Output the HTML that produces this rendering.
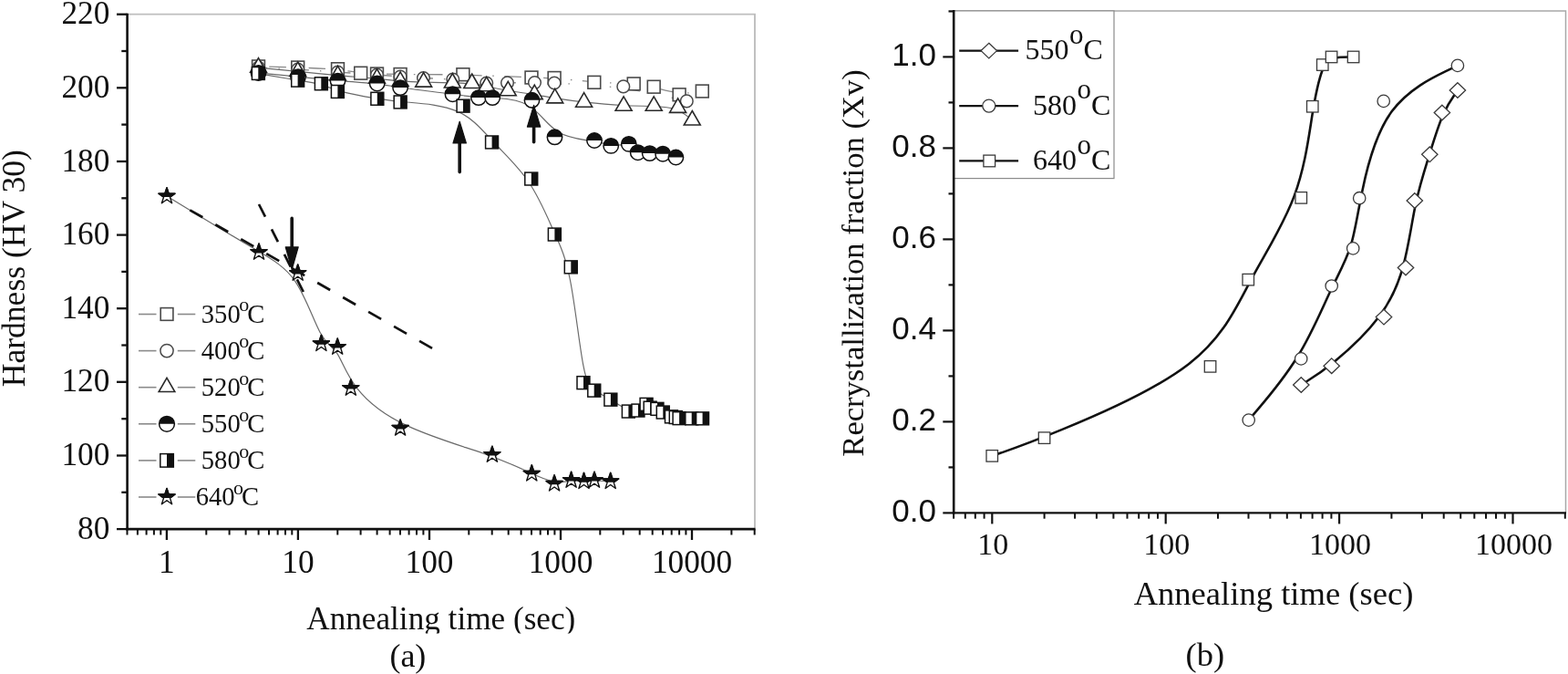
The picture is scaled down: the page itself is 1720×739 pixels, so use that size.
<!DOCTYPE html>
<html><head><meta charset="utf-8"><style>
html,body{margin:0;padding:0;background:#fff;}
svg{display:block;}
</style></head><body>
<svg width="1720" height="739" viewBox="0 0 1720 739">
<rect width="1720" height="739" fill="#fff"/>
<g fill="#111">
<path d="M139.6,15.6 H828.0 V580.1" fill="none" stroke="#bebebe" stroke-width="1.9"/>
<line x1="128.0" y1="580.1" x2="139.6" y2="580.1" stroke="#111" stroke-width="2.3"/>
<text x="120.4" y="590.6" font-size="35.3" text-anchor="end" font-family="'Liberation Serif','Times New Roman',serif" >80</text>
<line x1="133.3" y1="539.8" x2="139.6" y2="539.8" stroke="#111" stroke-width="2.3"/>
<line x1="128.0" y1="499.5" x2="139.6" y2="499.5" stroke="#111" stroke-width="2.3"/>
<text x="120.4" y="510.0" font-size="35.3" text-anchor="end" font-family="'Liberation Serif','Times New Roman',serif" >100</text>
<line x1="133.3" y1="459.2" x2="139.6" y2="459.2" stroke="#111" stroke-width="2.3"/>
<line x1="128.0" y1="418.8" x2="139.6" y2="418.8" stroke="#111" stroke-width="2.3"/>
<text x="120.4" y="429.3" font-size="35.3" text-anchor="end" font-family="'Liberation Serif','Times New Roman',serif" >120</text>
<line x1="133.3" y1="378.5" x2="139.6" y2="378.5" stroke="#111" stroke-width="2.3"/>
<line x1="128.0" y1="338.2" x2="139.6" y2="338.2" stroke="#111" stroke-width="2.3"/>
<text x="120.4" y="348.7" font-size="35.3" text-anchor="end" font-family="'Liberation Serif','Times New Roman',serif" >140</text>
<line x1="133.3" y1="297.9" x2="139.6" y2="297.9" stroke="#111" stroke-width="2.3"/>
<line x1="128.0" y1="257.6" x2="139.6" y2="257.6" stroke="#111" stroke-width="2.3"/>
<text x="120.4" y="268.1" font-size="35.3" text-anchor="end" font-family="'Liberation Serif','Times New Roman',serif" >160</text>
<line x1="133.3" y1="217.3" x2="139.6" y2="217.3" stroke="#111" stroke-width="2.3"/>
<line x1="128.0" y1="177.0" x2="139.6" y2="177.0" stroke="#111" stroke-width="2.3"/>
<text x="120.4" y="187.5" font-size="35.3" text-anchor="end" font-family="'Liberation Serif','Times New Roman',serif" >180</text>
<line x1="133.3" y1="136.6" x2="139.6" y2="136.6" stroke="#111" stroke-width="2.3"/>
<line x1="128.0" y1="96.3" x2="139.6" y2="96.3" stroke="#111" stroke-width="2.3"/>
<text x="120.4" y="106.8" font-size="35.3" text-anchor="end" font-family="'Liberation Serif','Times New Roman',serif" >200</text>
<line x1="133.3" y1="56.0" x2="139.6" y2="56.0" stroke="#111" stroke-width="2.3"/>
<line x1="128.0" y1="15.7" x2="139.6" y2="15.7" stroke="#111" stroke-width="2.3"/>
<text x="120.4" y="26.2" font-size="35.3" text-anchor="end" font-family="'Liberation Serif','Times New Roman',serif" >220</text>
<line x1="139.5" y1="580.1" x2="139.5" y2="586.5" stroke="#111" stroke-width="2.0"/>
<line x1="150.9" y1="580.1" x2="150.9" y2="586.5" stroke="#111" stroke-width="2.0"/>
<line x1="160.6" y1="580.1" x2="160.6" y2="586.5" stroke="#111" stroke-width="2.0"/>
<line x1="168.9" y1="580.1" x2="168.9" y2="586.5" stroke="#111" stroke-width="2.0"/>
<line x1="176.3" y1="580.1" x2="176.3" y2="586.5" stroke="#111" stroke-width="2.0"/>
<line x1="182.9" y1="580.1" x2="182.9" y2="592" stroke="#111" stroke-width="2.3"/>
<text x="182.9" y="628.0" font-size="35.3" text-anchor="middle" font-family="'Liberation Serif','Times New Roman',serif" >1</text>
<line x1="226.3" y1="580.1" x2="226.3" y2="586.5" stroke="#111" stroke-width="2.0"/>
<line x1="251.6" y1="580.1" x2="251.6" y2="586.5" stroke="#111" stroke-width="2.0"/>
<line x1="269.6" y1="580.1" x2="269.6" y2="586.5" stroke="#111" stroke-width="2.0"/>
<line x1="283.6" y1="580.1" x2="283.6" y2="586.5" stroke="#111" stroke-width="2.0"/>
<line x1="295.0" y1="580.1" x2="295.0" y2="586.5" stroke="#111" stroke-width="2.0"/>
<line x1="304.6" y1="580.1" x2="304.6" y2="586.5" stroke="#111" stroke-width="2.0"/>
<line x1="313.0" y1="580.1" x2="313.0" y2="586.5" stroke="#111" stroke-width="2.0"/>
<line x1="320.3" y1="580.1" x2="320.3" y2="586.5" stroke="#111" stroke-width="2.0"/>
<line x1="326.9" y1="580.1" x2="326.9" y2="592" stroke="#111" stroke-width="2.3"/>
<text x="326.9" y="628.0" font-size="35.3" text-anchor="middle" font-family="'Liberation Serif','Times New Roman',serif" >10</text>
<line x1="370.3" y1="580.1" x2="370.3" y2="586.5" stroke="#111" stroke-width="2.0"/>
<line x1="395.6" y1="580.1" x2="395.6" y2="586.5" stroke="#111" stroke-width="2.0"/>
<line x1="413.6" y1="580.1" x2="413.6" y2="586.5" stroke="#111" stroke-width="2.0"/>
<line x1="427.6" y1="580.1" x2="427.6" y2="586.5" stroke="#111" stroke-width="2.0"/>
<line x1="439.0" y1="580.1" x2="439.0" y2="586.5" stroke="#111" stroke-width="2.0"/>
<line x1="448.6" y1="580.1" x2="448.6" y2="586.5" stroke="#111" stroke-width="2.0"/>
<line x1="457.0" y1="580.1" x2="457.0" y2="586.5" stroke="#111" stroke-width="2.0"/>
<line x1="464.4" y1="580.1" x2="464.4" y2="586.5" stroke="#111" stroke-width="2.0"/>
<line x1="471.0" y1="580.1" x2="471.0" y2="592" stroke="#111" stroke-width="2.3"/>
<text x="471.0" y="628.0" font-size="35.3" text-anchor="middle" font-family="'Liberation Serif','Times New Roman',serif" >100</text>
<line x1="514.3" y1="580.1" x2="514.3" y2="586.5" stroke="#111" stroke-width="2.0"/>
<line x1="539.7" y1="580.1" x2="539.7" y2="586.5" stroke="#111" stroke-width="2.0"/>
<line x1="557.7" y1="580.1" x2="557.7" y2="586.5" stroke="#111" stroke-width="2.0"/>
<line x1="571.6" y1="580.1" x2="571.6" y2="586.5" stroke="#111" stroke-width="2.0"/>
<line x1="583.0" y1="580.1" x2="583.0" y2="586.5" stroke="#111" stroke-width="2.0"/>
<line x1="592.7" y1="580.1" x2="592.7" y2="586.5" stroke="#111" stroke-width="2.0"/>
<line x1="601.0" y1="580.1" x2="601.0" y2="586.5" stroke="#111" stroke-width="2.0"/>
<line x1="608.4" y1="580.1" x2="608.4" y2="586.5" stroke="#111" stroke-width="2.0"/>
<line x1="615.0" y1="580.1" x2="615.0" y2="592" stroke="#111" stroke-width="2.3"/>
<text x="615.0" y="628.0" font-size="35.3" text-anchor="middle" font-family="'Liberation Serif','Times New Roman',serif" >1000</text>
<line x1="658.3" y1="580.1" x2="658.3" y2="586.5" stroke="#111" stroke-width="2.0"/>
<line x1="683.7" y1="580.1" x2="683.7" y2="586.5" stroke="#111" stroke-width="2.0"/>
<line x1="701.7" y1="580.1" x2="701.7" y2="586.5" stroke="#111" stroke-width="2.0"/>
<line x1="715.7" y1="580.1" x2="715.7" y2="586.5" stroke="#111" stroke-width="2.0"/>
<line x1="727.1" y1="580.1" x2="727.1" y2="586.5" stroke="#111" stroke-width="2.0"/>
<line x1="736.7" y1="580.1" x2="736.7" y2="586.5" stroke="#111" stroke-width="2.0"/>
<line x1="745.1" y1="580.1" x2="745.1" y2="586.5" stroke="#111" stroke-width="2.0"/>
<line x1="752.4" y1="580.1" x2="752.4" y2="586.5" stroke="#111" stroke-width="2.0"/>
<line x1="759.0" y1="580.1" x2="759.0" y2="592" stroke="#111" stroke-width="2.3"/>
<text x="759.0" y="628.0" font-size="35.3" text-anchor="middle" font-family="'Liberation Serif','Times New Roman',serif" >10000</text>
<line x1="802.4" y1="580.1" x2="802.4" y2="586.5" stroke="#111" stroke-width="2.0"/>
<line x1="827.7" y1="580.1" x2="827.7" y2="586.5" stroke="#111" stroke-width="2.0"/>
<line x1="139.6" y1="14.799999999999999" x2="139.6" y2="581.3000000000001" stroke="#111" stroke-width="2.6"/>
<line x1="138.4" y1="580.1" x2="828.5" y2="580.1" stroke="#111" stroke-width="2.6"/>
<clipPath id="ctl"><rect x="300" y="640" width="400" height="54.6"/></clipPath>
<text x="483.8" y="689.9" font-size="35.2" text-anchor="middle" font-family="'Liberation Serif','Times New Roman',serif" clip-path="url(#ctl)">Annealing time (sec)</text>
<text x="447.4" y="730.5" font-size="36" text-anchor="middle" font-family="'Liberation Serif','Times New Roman',serif" >(a)</text>
<text x="0" y="0" font-size="35.6" text-anchor="middle" font-family="'Liberation Serif','Times New Roman',serif" transform="translate(26.8,294.2) rotate(-90)">Hardness (HV 30)</text>
<path d="M283.5,72.9 C283.5,72.9 283.5,72.9 290.7,73.1 C297.9,73.3 312.3,73.6 326.8,74.1 C341.3,74.6 355.9,75.1 367.4,76.2 C378.9,77.2 387.3,78.7 394.5,79.6 C401.6,80.5 407.6,80.7 414.8,81.0 C422.0,81.2 430.6,81.3 446.3,81.5 C462.0,81.6 485.0,81.6 508.9,82.2 C532.9,82.8 558.0,83.9 574.7,84.5 C591.4,85.2 599.7,85.3 611.2,86.2 C622.7,87.1 637.2,88.7 651.8,89.8 C666.3,90.8 680.7,91.4 691.6,92.2 C702.5,93.0 709.9,94.1 718.2,96.1 C726.5,98.1 735.8,100.9 744.7,101.7 C753.5,102.5 761.9,101.3 766.1,100.6 C770.3,100.0 770.3,100.0 770.3,100.0" fill="none" stroke="#8a8a8a" stroke-width="1.3" stroke-dasharray="18.5,11.5,1.5,11.5" stroke-dashoffset="31"/>
<path d="M283.5,74.0 C283.5,74.0 283.5,74.0 290.7,74.3 C297.9,74.7 312.3,75.3 326.8,76.2 C341.3,77.0 355.9,78.0 370.4,79.0 C384.8,80.0 399.2,81.0 410.6,81.8 C422.0,82.7 430.6,83.3 439.1,83.9 C447.6,84.5 456.0,85.0 465.7,85.5 C475.3,86.0 486.0,86.5 497.6,87.4 C509.1,88.3 521.4,89.7 531.4,90.3 C541.3,90.9 548.9,90.9 557.7,90.8 C566.5,90.7 576.5,90.7 585.1,90.7 C593.7,90.7 600.9,90.9 617.1,91.6 C633.3,92.3 658.6,93.6 682.8,96.9 C707.0,100.2 730.1,105.6 741.7,108.2 C753.3,110.9 753.3,110.9 753.3,110.9" fill="none" stroke="#8a8a8a" stroke-width="1.3" stroke-dasharray="10,12,1.5,22"/>
<path d="M283.5,74.1 C283.5,74.1 283.5,74.1 290.7,74.8 C297.9,75.5 312.3,77.0 326.8,78.4 C341.3,79.9 355.9,81.3 370.4,82.6 C384.8,83.9 399.2,84.9 410.6,86.0 C422.0,87.1 430.6,88.2 439.1,88.9 C447.6,89.5 456.1,89.8 465.6,90.0 C475.2,90.3 485.7,90.6 494.6,90.8 C503.4,91.1 510.6,91.2 516.8,91.9 C523.0,92.5 528.4,93.6 535.0,95.0 C541.6,96.4 549.4,98.0 558.2,99.5 C567.0,101.0 576.6,102.2 585.2,103.6 C593.8,104.9 601.2,106.4 610.3,107.8 C619.3,109.2 630.0,110.7 642.5,112.1 C655.1,113.5 669.6,114.8 682.4,115.5 C695.1,116.2 706.2,116.2 716.1,116.5 C726.0,116.9 734.8,117.6 741.8,120.2 C748.8,122.8 754.1,127.4 756.7,129.6 C759.3,131.9 759.3,131.9 759.3,131.9" fill="none" stroke="#6a6a6a" stroke-width="1.2"/>
<path d="M283.5,80.0 C283.5,80.0 283.5,80.0 290.8,80.7 C298.0,81.4 312.5,82.8 327.0,84.2 C341.5,85.7 356.0,87.1 370.4,88.3 C384.9,89.6 399.3,90.5 410.7,91.8 C422.2,93.0 430.6,94.6 444.4,96.5 C458.2,98.5 477.4,100.8 491.7,102.7 C506.0,104.5 515.5,105.8 522.8,106.5 C530.1,107.1 535.1,107.1 544.9,107.5 C554.6,108.0 569.1,108.9 580.4,116.1 C591.8,123.3 600.2,136.8 611.6,144.2 C623.0,151.5 637.5,152.8 647.8,154.4 C658.1,156.0 664.1,157.9 670.4,158.6 C676.7,159.2 683.3,158.6 688.2,159.8 C693.1,161.0 696.4,164.1 700.2,165.8 C704.0,167.5 708.4,167.8 712.9,168.0 C717.5,168.3 722.3,168.5 727.1,169.2 C731.9,170.0 736.6,171.2 739.0,171.9 C741.4,172.5 741.4,172.5 741.4,172.5" fill="none" stroke="#6a6a6a" stroke-width="1.2"/>
<path d="M283.3,80.5 C283.3,80.5 283.3,80.5 290.5,81.8 C297.7,83.1 312.2,85.6 323.7,87.5 C335.2,89.4 343.7,90.6 351.0,92.6 C358.3,94.7 364.4,97.5 374.6,100.3 C384.9,103.0 399.3,105.7 410.8,107.6 C422.2,109.5 430.7,110.7 446.4,112.0 C462.1,113.3 485.0,114.8 501.8,122.1 C518.5,129.4 529.1,142.7 541.5,156.0 C554.0,169.3 568.4,182.6 579.9,199.5 C591.3,216.3 599.9,236.7 607.1,252.8 C614.4,269.0 620.3,280.9 625.6,308.0 C630.9,335.1 635.4,377.4 639.7,399.9 C643.9,422.4 647.8,425.3 652.8,428.3 C657.8,431.4 663.8,434.8 670.1,438.6 C676.4,442.4 682.9,446.7 687.9,448.7 C692.9,450.7 696.5,450.3 699.8,449.1 C703.0,447.8 706.1,445.6 708.3,445.1 C710.5,444.7 711.8,445.9 713.8,446.8 C715.8,447.6 718.4,447.9 720.8,448.7 C723.1,449.5 725.2,450.8 727.8,452.2 C730.4,453.6 733.4,455.3 735.8,456.2 C738.1,457.1 739.7,457.3 741.1,457.6 C742.6,457.9 743.8,458.2 746.7,458.5 C749.6,458.7 754.2,458.7 758.4,458.8 C762.7,458.8 766.6,458.8 768.6,458.8 C770.6,458.8 770.6,458.8 770.6,458.8" fill="none" stroke="#6a6a6a" stroke-width="1.2"/>
<path d="M183.0,215.1 C183.0,215.1 183.0,215.1 199.8,225.3 C216.7,235.6 250.3,256.0 274.3,270.1 C298.2,284.2 312.5,291.8 323.9,308.6 C335.3,325.3 343.8,351.0 351.1,364.5 C358.3,378.0 364.3,379.3 369.7,387.4 C375.1,395.5 379.9,410.5 391.4,425.3 C402.9,440.1 421.0,454.8 446.9,466.9 C472.7,479.1 506.3,488.9 530.3,497.2 C554.4,505.5 568.8,512.4 580.2,517.7 C591.6,523.0 599.8,526.6 607.0,527.9 C614.3,529.1 620.4,527.8 625.8,527.4 C631.2,527.0 635.9,527.4 640.1,527.4 C644.3,527.4 648.2,527.0 653.0,527.0 C657.9,527.0 663.8,527.4 666.8,527.6 C669.7,527.8 669.7,527.8 669.7,527.8" fill="none" stroke="#6a6a6a" stroke-width="1.2"/>
<line x1="208.3" y1="230.3" x2="474.4" y2="382.0" stroke="#111" stroke-width="2.7" stroke-dasharray="16.1,16.1"/>
<line x1="284.0" y1="224.0" x2="333.1" y2="320.6" stroke="#111" stroke-width="2.7" stroke-dasharray="15.3,15.5"/>
<rect x="276.6" y="66.0" width="13.8" height="13.8" fill="#fff" stroke="#4a4a4a" stroke-width="1.6"/>
<rect x="319.8" y="67.1" width="13.8" height="13.8" fill="#fff" stroke="#4a4a4a" stroke-width="1.6"/>
<rect x="363.6" y="68.8" width="13.8" height="13.8" fill="#fff" stroke="#4a4a4a" stroke-width="1.6"/>
<rect x="388.8" y="73.3" width="13.8" height="13.8" fill="#fff" stroke="#4a4a4a" stroke-width="1.6"/>
<rect x="406.6" y="74.1" width="13.8" height="13.8" fill="#fff" stroke="#4a4a4a" stroke-width="1.6"/>
<rect x="432.2" y="74.6" width="13.8" height="13.8" fill="#fff" stroke="#4a4a4a" stroke-width="1.6"/>
<rect x="501.0" y="74.8" width="13.8" height="13.8" fill="#fff" stroke="#4a4a4a" stroke-width="1.6"/>
<rect x="576.1" y="78.1" width="13.8" height="13.8" fill="#fff" stroke="#4a4a4a" stroke-width="1.6"/>
<rect x="601.2" y="78.6" width="13.8" height="13.8" fill="#fff" stroke="#4a4a4a" stroke-width="1.6"/>
<rect x="644.9" y="83.4" width="13.8" height="13.8" fill="#fff" stroke="#4a4a4a" stroke-width="1.6"/>
<rect x="688.3" y="85.0" width="13.8" height="13.8" fill="#fff" stroke="#4a4a4a" stroke-width="1.6"/>
<rect x="710.3" y="88.3" width="13.8" height="13.8" fill="#fff" stroke="#4a4a4a" stroke-width="1.6"/>
<rect x="738.2" y="96.9" width="13.8" height="13.8" fill="#fff" stroke="#4a4a4a" stroke-width="1.6"/>
<rect x="763.4" y="93.1" width="13.8" height="13.8" fill="#fff" stroke="#4a4a4a" stroke-width="1.6"/>
<circle cx="283.5" cy="74.0" r="6.8" fill="#fff" stroke="#4a4a4a" stroke-width="1.5"/>
<circle cx="326.7" cy="76.0" r="6.8" fill="#fff" stroke="#4a4a4a" stroke-width="1.5"/>
<circle cx="370.5" cy="79.0" r="6.8" fill="#fff" stroke="#4a4a4a" stroke-width="1.5"/>
<circle cx="413.5" cy="82.0" r="6.8" fill="#fff" stroke="#4a4a4a" stroke-width="1.5"/>
<circle cx="439.1" cy="84.0" r="6.8" fill="#fff" stroke="#4a4a4a" stroke-width="1.5"/>
<circle cx="464.5" cy="85.5" r="6.8" fill="#fff" stroke="#4a4a4a" stroke-width="1.5"/>
<circle cx="496.8" cy="87.0" r="6.8" fill="#fff" stroke="#4a4a4a" stroke-width="1.5"/>
<circle cx="533.7" cy="91.0" r="6.8" fill="#fff" stroke="#4a4a4a" stroke-width="1.5"/>
<circle cx="556.5" cy="90.8" r="6.8" fill="#fff" stroke="#4a4a4a" stroke-width="1.5"/>
<circle cx="586.5" cy="90.6" r="6.8" fill="#fff" stroke="#4a4a4a" stroke-width="1.5"/>
<circle cx="608.1" cy="91.0" r="6.8" fill="#fff" stroke="#4a4a4a" stroke-width="1.5"/>
<circle cx="683.8" cy="94.9" r="6.8" fill="#fff" stroke="#4a4a4a" stroke-width="1.5"/>
<circle cx="753.3" cy="110.9" r="6.8" fill="#fff" stroke="#4a4a4a" stroke-width="1.5"/>
<path d="M283.5,63.7 L292.4,79.2 L274.6,79.2 Z" fill="#fff" stroke="#2a2a2a" stroke-width="1.6" stroke-linejoin="miter" stroke-miterlimit="4"/>
<path d="M326.7,68.0 L335.6,83.5 L317.8,83.5 Z" fill="#fff" stroke="#2a2a2a" stroke-width="1.6" stroke-linejoin="miter" stroke-miterlimit="4"/>
<path d="M370.5,72.4 L379.4,87.9 L361.6,87.9 Z" fill="#fff" stroke="#2a2a2a" stroke-width="1.6" stroke-linejoin="miter" stroke-miterlimit="4"/>
<path d="M413.5,75.6 L422.4,91.1 L404.6,91.1 Z" fill="#fff" stroke="#2a2a2a" stroke-width="1.6" stroke-linejoin="miter" stroke-miterlimit="4"/>
<path d="M439.1,78.9 L448.1,94.4 L430.2,94.4 Z" fill="#fff" stroke="#2a2a2a" stroke-width="1.6" stroke-linejoin="miter" stroke-miterlimit="4"/>
<path d="M464.6,79.6 L473.6,95.1 L455.7,95.1 Z" fill="#fff" stroke="#2a2a2a" stroke-width="1.6" stroke-linejoin="miter" stroke-miterlimit="4"/>
<path d="M496.3,80.5 L505.2,96.0 L487.4,96.0 Z" fill="#fff" stroke="#2a2a2a" stroke-width="1.6" stroke-linejoin="miter" stroke-miterlimit="4"/>
<path d="M517.7,81.0 L526.7,96.5 L508.8,96.5 Z" fill="#fff" stroke="#2a2a2a" stroke-width="1.6" stroke-linejoin="miter" stroke-miterlimit="4"/>
<path d="M533.7,84.3 L542.7,99.8 L524.8,99.8 Z" fill="#fff" stroke="#2a2a2a" stroke-width="1.6" stroke-linejoin="miter" stroke-miterlimit="4"/>
<path d="M557.3,89.3 L566.2,104.8 L548.3,104.8 Z" fill="#fff" stroke="#2a2a2a" stroke-width="1.6" stroke-linejoin="miter" stroke-miterlimit="4"/>
<path d="M586.3,93.1 L595.2,108.6 L577.3,108.6 Z" fill="#fff" stroke="#2a2a2a" stroke-width="1.6" stroke-linejoin="miter" stroke-miterlimit="4"/>
<path d="M608.7,97.4 L617.7,112.9 L599.8,112.9 Z" fill="#fff" stroke="#2a2a2a" stroke-width="1.6" stroke-linejoin="miter" stroke-miterlimit="4"/>
<path d="M640.6,101.7 L649.6,117.2 L631.6,117.2 Z" fill="#fff" stroke="#2a2a2a" stroke-width="1.6" stroke-linejoin="miter" stroke-miterlimit="4"/>
<path d="M684.1,105.8 L693.1,121.3 L675.1,121.3 Z" fill="#fff" stroke="#2a2a2a" stroke-width="1.6" stroke-linejoin="miter" stroke-miterlimit="4"/>
<path d="M717.2,105.8 L726.2,121.3 L708.2,121.3 Z" fill="#fff" stroke="#2a2a2a" stroke-width="1.6" stroke-linejoin="miter" stroke-miterlimit="4"/>
<path d="M743.6,107.9 L752.6,123.4 L734.6,123.4 Z" fill="#fff" stroke="#2a2a2a" stroke-width="1.6" stroke-linejoin="miter" stroke-miterlimit="4"/>
<path d="M759.3,121.5 L768.2,137.0 L750.3,137.0 Z" fill="#fff" stroke="#2a2a2a" stroke-width="1.6" stroke-linejoin="miter" stroke-miterlimit="4"/>
<circle cx="283.5" cy="80.0" r="8.2" fill="#fff" stroke="#111" stroke-width="1.5"/><path d="M275.3,80.0 A8.2,8.2 0 0 1 291.7,80.0 Z" fill="#111"/>
<circle cx="327.0" cy="84.2" r="8.2" fill="#fff" stroke="#111" stroke-width="1.5"/><path d="M318.8,84.2 A8.2,8.2 0 0 1 335.2,84.2 Z" fill="#111"/>
<circle cx="370.5" cy="88.6" r="8.2" fill="#fff" stroke="#111" stroke-width="1.5"/><path d="M362.3,88.6 A8.2,8.2 0 0 1 378.7,88.6 Z" fill="#111"/>
<circle cx="413.7" cy="91.5" r="8.2" fill="#fff" stroke="#111" stroke-width="1.5"/><path d="M405.5,91.5 A8.2,8.2 0 0 1 421.9,91.5 Z" fill="#111"/>
<circle cx="439.1" cy="96.1" r="8.2" fill="#fff" stroke="#111" stroke-width="1.5"/><path d="M430.9,96.1 A8.2,8.2 0 0 1 447.3,96.1 Z" fill="#111"/>
<circle cx="496.5" cy="103.2" r="8.2" fill="#fff" stroke="#111" stroke-width="1.5"/><path d="M488.3,103.2 A8.2,8.2 0 0 1 504.7,103.2 Z" fill="#111"/>
<circle cx="525.0" cy="107.1" r="8.2" fill="#fff" stroke="#111" stroke-width="1.5"/><path d="M516.8,107.1 A8.2,8.2 0 0 1 533.2,107.1 Z" fill="#111"/>
<circle cx="540.2" cy="107.1" r="8.2" fill="#fff" stroke="#111" stroke-width="1.5"/><path d="M532.0,107.1 A8.2,8.2 0 0 1 548.4,107.1 Z" fill="#111"/>
<circle cx="583.5" cy="109.8" r="8.2" fill="#fff" stroke="#111" stroke-width="1.5"/><path d="M575.3,109.8 A8.2,8.2 0 0 1 591.7,109.8 Z" fill="#111"/>
<circle cx="608.5" cy="150.3" r="8.2" fill="#fff" stroke="#111" stroke-width="1.5"/><path d="M600.3,150.3 A8.2,8.2 0 0 1 616.7,150.3 Z" fill="#111"/>
<circle cx="652.0" cy="154.0" r="8.2" fill="#fff" stroke="#111" stroke-width="1.5"/><path d="M643.8,154.0 A8.2,8.2 0 0 1 660.2,154.0 Z" fill="#111"/>
<circle cx="670.2" cy="159.9" r="8.2" fill="#fff" stroke="#111" stroke-width="1.5"/><path d="M662.0,159.9 A8.2,8.2 0 0 1 678.4,159.9 Z" fill="#111"/>
<circle cx="689.8" cy="157.9" r="8.2" fill="#fff" stroke="#111" stroke-width="1.5"/><path d="M681.6,157.9 A8.2,8.2 0 0 1 698.0,157.9 Z" fill="#111"/>
<circle cx="699.7" cy="167.2" r="8.2" fill="#fff" stroke="#111" stroke-width="1.5"/><path d="M691.5,167.2 A8.2,8.2 0 0 1 707.9,167.2 Z" fill="#111"/>
<circle cx="712.7" cy="168.1" r="8.2" fill="#fff" stroke="#111" stroke-width="1.5"/><path d="M704.5,168.1 A8.2,8.2 0 0 1 720.9,168.1 Z" fill="#111"/>
<circle cx="727.1" cy="168.7" r="8.2" fill="#fff" stroke="#111" stroke-width="1.5"/><path d="M718.9,168.7 A8.2,8.2 0 0 1 735.3,168.7 Z" fill="#111"/>
<circle cx="741.4" cy="172.5" r="8.2" fill="#fff" stroke="#111" stroke-width="1.5"/><path d="M733.2,172.5 A8.2,8.2 0 0 1 749.6,172.5 Z" fill="#111"/>
<rect x="276.4" y="73.5" width="13.9" height="13.9" fill="#fff" stroke="#111" stroke-width="1.5"/><rect x="283.3" y="73.5" width="7.0" height="13.9" fill="#111"/>
<rect x="319.7" y="81.2" width="13.9" height="13.9" fill="#fff" stroke="#111" stroke-width="1.5"/><rect x="326.6" y="81.2" width="7.0" height="13.9" fill="#111"/>
<rect x="345.4" y="84.8" width="13.9" height="13.9" fill="#fff" stroke="#111" stroke-width="1.5"/><rect x="352.3" y="84.8" width="7.0" height="13.9" fill="#111"/>
<rect x="363.4" y="93.5" width="13.9" height="13.9" fill="#fff" stroke="#111" stroke-width="1.5"/><rect x="370.4" y="93.5" width="7.0" height="13.9" fill="#111"/>
<rect x="406.9" y="101.3" width="13.9" height="13.9" fill="#fff" stroke="#111" stroke-width="1.5"/><rect x="413.8" y="101.3" width="7.0" height="13.9" fill="#111"/>
<rect x="432.2" y="105.0" width="13.9" height="13.9" fill="#fff" stroke="#111" stroke-width="1.5"/><rect x="439.1" y="105.0" width="7.0" height="13.9" fill="#111"/>
<rect x="501.1" y="109.2" width="13.9" height="13.9" fill="#fff" stroke="#111" stroke-width="1.5"/><rect x="508.0" y="109.2" width="7.0" height="13.9" fill="#111"/>
<rect x="532.6" y="149.0" width="13.9" height="13.9" fill="#fff" stroke="#111" stroke-width="1.5"/><rect x="539.6" y="149.0" width="7.0" height="13.9" fill="#111"/>
<rect x="575.8" y="189.1" width="13.9" height="13.9" fill="#fff" stroke="#111" stroke-width="1.5"/><rect x="582.8" y="189.1" width="7.0" height="13.9" fill="#111"/>
<rect x="601.4" y="250.1" width="13.9" height="13.9" fill="#fff" stroke="#111" stroke-width="1.5"/><rect x="608.4" y="250.1" width="7.0" height="13.9" fill="#111"/>
<rect x="619.3" y="285.9" width="13.9" height="13.9" fill="#fff" stroke="#111" stroke-width="1.5"/><rect x="626.3" y="285.9" width="7.0" height="13.9" fill="#111"/>
<rect x="633.0" y="412.7" width="13.9" height="13.9" fill="#fff" stroke="#111" stroke-width="1.5"/><rect x="640.0" y="412.7" width="7.0" height="13.9" fill="#111"/>
<rect x="644.8" y="421.2" width="13.9" height="13.9" fill="#fff" stroke="#111" stroke-width="1.5"/><rect x="651.7" y="421.2" width="7.0" height="13.9" fill="#111"/>
<rect x="662.9" y="431.2" width="13.9" height="13.9" fill="#fff" stroke="#111" stroke-width="1.5"/><rect x="669.9" y="431.2" width="7.0" height="13.9" fill="#111"/>
<rect x="682.4" y="444.1" width="13.9" height="13.9" fill="#fff" stroke="#111" stroke-width="1.5"/><rect x="689.4" y="444.1" width="7.0" height="13.9" fill="#111"/>
<rect x="693.0" y="443.1" width="13.9" height="13.9" fill="#fff" stroke="#111" stroke-width="1.5"/><rect x="700.0" y="443.1" width="7.0" height="13.9" fill="#111"/>
<rect x="702.1" y="436.4" width="13.9" height="13.9" fill="#fff" stroke="#111" stroke-width="1.5"/><rect x="709.1" y="436.4" width="7.0" height="13.9" fill="#111"/>
<rect x="706.2" y="440.2" width="13.9" height="13.9" fill="#fff" stroke="#111" stroke-width="1.5"/><rect x="713.2" y="440.2" width="7.0" height="13.9" fill="#111"/>
<rect x="714.0" y="441.4" width="13.9" height="13.9" fill="#fff" stroke="#111" stroke-width="1.5"/><rect x="721.0" y="441.4" width="7.0" height="13.9" fill="#111"/>
<rect x="720.3" y="445.1" width="13.9" height="13.9" fill="#fff" stroke="#111" stroke-width="1.5"/><rect x="727.3" y="445.1" width="7.0" height="13.9" fill="#111"/>
<rect x="729.5" y="449.9" width="13.9" height="13.9" fill="#fff" stroke="#111" stroke-width="1.5"/><rect x="736.5" y="449.9" width="7.0" height="13.9" fill="#111"/>
<rect x="734.3" y="450.6" width="13.9" height="13.9" fill="#fff" stroke="#111" stroke-width="1.5"/><rect x="741.3" y="450.6" width="7.0" height="13.9" fill="#111"/>
<rect x="738.1" y="451.7" width="13.9" height="13.9" fill="#fff" stroke="#111" stroke-width="1.5"/><rect x="745.1" y="451.7" width="7.0" height="13.9" fill="#111"/>
<rect x="751.8" y="451.9" width="13.9" height="13.9" fill="#fff" stroke="#111" stroke-width="1.5"/><rect x="758.7" y="451.9" width="7.0" height="13.9" fill="#111"/>
<rect x="763.6" y="451.9" width="13.9" height="13.9" fill="#fff" stroke="#111" stroke-width="1.5"/><rect x="770.6" y="451.9" width="7.0" height="13.9" fill="#111"/>
<path d="M183.0,205.6 L185.2,212.1 L192.0,212.2 L186.5,216.2 L188.6,222.8 L183.0,218.8 L177.4,222.8 L179.5,216.2 L174.0,212.2 L180.8,212.1 Z" fill="#fff" stroke="#111" stroke-width="1.4" stroke-linejoin="round"/><clipPath id="st1"><rect x="170.5" y="202.6" width="25.0" height="13.5"/></clipPath><path d="M183.0,205.6 L185.2,212.1 L192.0,212.2 L186.5,216.2 L188.6,222.8 L183.0,218.8 L177.4,222.8 L179.5,216.2 L174.0,212.2 L180.8,212.1 Z" fill="#111" stroke="#111" stroke-width="1.4" stroke-linejoin="round" clip-path="url(#st1)"/>
<path d="M284.0,267.0 L286.2,273.5 L293.0,273.6 L287.5,277.6 L289.6,284.2 L284.0,280.2 L278.4,284.2 L280.5,277.6 L275.0,273.6 L281.8,273.5 Z" fill="#fff" stroke="#111" stroke-width="1.4" stroke-linejoin="round"/><clipPath id="st2"><rect x="271.5" y="264.0" width="25.0" height="13.5"/></clipPath><path d="M284.0,267.0 L286.2,273.5 L293.0,273.6 L287.5,277.6 L289.6,284.2 L284.0,280.2 L278.4,284.2 L280.5,277.6 L275.0,273.6 L281.8,273.5 Z" fill="#111" stroke="#111" stroke-width="1.4" stroke-linejoin="round" clip-path="url(#st2)"/>
<path d="M326.7,290.0 L328.9,296.5 L335.7,296.6 L330.2,300.6 L332.3,307.2 L326.7,303.2 L321.1,307.2 L323.2,300.6 L317.7,296.6 L324.5,296.5 Z" fill="#fff" stroke="#111" stroke-width="1.4" stroke-linejoin="round"/><clipPath id="st3"><rect x="314.2" y="287.0" width="25.0" height="13.5"/></clipPath><path d="M326.7,290.0 L328.9,296.5 L335.7,296.6 L330.2,300.6 L332.3,307.2 L326.7,303.2 L321.1,307.2 L323.2,300.6 L317.7,296.6 L324.5,296.5 Z" fill="#111" stroke="#111" stroke-width="1.4" stroke-linejoin="round" clip-path="url(#st3)"/>
<path d="M352.4,367.3 L354.6,373.8 L361.4,373.9 L355.9,377.9 L358.0,384.5 L352.4,380.5 L346.8,384.5 L348.9,377.9 L343.4,373.9 L350.2,373.8 Z" fill="#fff" stroke="#111" stroke-width="1.4" stroke-linejoin="round"/><clipPath id="st4"><rect x="339.9" y="364.3" width="25.0" height="13.5"/></clipPath><path d="M352.4,367.3 L354.6,373.8 L361.4,373.9 L355.9,377.9 L358.0,384.5 L352.4,380.5 L346.8,384.5 L348.9,377.9 L343.4,373.9 L350.2,373.8 Z" fill="#111" stroke="#111" stroke-width="1.4" stroke-linejoin="round" clip-path="url(#st4)"/>
<path d="M370.2,371.0 L372.4,377.5 L379.2,377.6 L373.7,381.6 L375.8,388.2 L370.2,384.2 L364.6,388.2 L366.7,381.6 L361.2,377.6 L368.0,377.5 Z" fill="#fff" stroke="#111" stroke-width="1.4" stroke-linejoin="round"/><clipPath id="st5"><rect x="357.7" y="368.0" width="25.0" height="13.5"/></clipPath><path d="M370.2,371.0 L372.4,377.5 L379.2,377.6 L373.7,381.6 L375.8,388.2 L370.2,384.2 L364.6,388.2 L366.7,381.6 L361.2,377.6 L368.0,377.5 Z" fill="#111" stroke="#111" stroke-width="1.4" stroke-linejoin="round" clip-path="url(#st5)"/>
<path d="M384.8,416.0 L387.0,422.5 L393.8,422.6 L388.3,426.6 L390.4,433.2 L384.8,429.2 L379.2,433.2 L381.3,426.6 L375.8,422.6 L382.6,422.5 Z" fill="#fff" stroke="#111" stroke-width="1.4" stroke-linejoin="round"/><clipPath id="st6"><rect x="372.3" y="413.0" width="25.0" height="13.5"/></clipPath><path d="M384.8,416.0 L387.0,422.5 L393.8,422.6 L388.3,426.6 L390.4,433.2 L384.8,429.2 L379.2,433.2 L381.3,426.6 L375.8,422.6 L382.6,422.5 Z" fill="#111" stroke="#111" stroke-width="1.4" stroke-linejoin="round" clip-path="url(#st6)"/>
<path d="M439.1,459.9 L441.3,466.4 L448.1,466.5 L442.6,470.5 L444.7,477.1 L439.1,473.1 L433.5,477.1 L435.6,470.5 L430.1,466.5 L436.9,466.4 Z" fill="#fff" stroke="#111" stroke-width="1.4" stroke-linejoin="round"/><clipPath id="st7"><rect x="426.6" y="456.9" width="25.0" height="13.5"/></clipPath><path d="M439.1,459.9 L441.3,466.4 L448.1,466.5 L442.6,470.5 L444.7,477.1 L439.1,473.1 L433.5,477.1 L435.6,470.5 L430.1,466.5 L436.9,466.4 Z" fill="#111" stroke="#111" stroke-width="1.4" stroke-linejoin="round" clip-path="url(#st7)"/>
<path d="M539.9,489.1 L542.1,495.6 L548.9,495.7 L543.4,499.7 L545.5,506.3 L539.9,502.3 L534.3,506.3 L536.4,499.7 L530.9,495.7 L537.7,495.6 Z" fill="#fff" stroke="#111" stroke-width="1.4" stroke-linejoin="round"/><clipPath id="st8"><rect x="527.4" y="486.1" width="25.0" height="13.5"/></clipPath><path d="M539.9,489.1 L542.1,495.6 L548.9,495.7 L543.4,499.7 L545.5,506.3 L539.9,502.3 L534.3,506.3 L536.4,499.7 L530.9,495.7 L537.7,495.6 Z" fill="#111" stroke="#111" stroke-width="1.4" stroke-linejoin="round" clip-path="url(#st8)"/>
<path d="M583.3,509.8 L585.5,516.3 L592.3,516.4 L586.8,520.4 L588.9,527.0 L583.3,523.0 L577.7,527.0 L579.8,520.4 L574.3,516.4 L581.1,516.3 Z" fill="#fff" stroke="#111" stroke-width="1.4" stroke-linejoin="round"/><clipPath id="st9"><rect x="570.8" y="506.8" width="25.0" height="13.5"/></clipPath><path d="M583.3,509.8 L585.5,516.3 L592.3,516.4 L586.8,520.4 L588.9,527.0 L583.3,523.0 L577.7,527.0 L579.8,520.4 L574.3,516.4 L581.1,516.3 Z" fill="#111" stroke="#111" stroke-width="1.4" stroke-linejoin="round" clip-path="url(#st9)"/>
<path d="M608.1,520.8 L610.3,527.3 L617.1,527.4 L611.6,531.4 L613.7,538.0 L608.1,534.0 L602.5,538.0 L604.6,531.4 L599.1,527.4 L605.9,527.3 Z" fill="#fff" stroke="#111" stroke-width="1.4" stroke-linejoin="round"/><clipPath id="st10"><rect x="595.6" y="517.8" width="25.0" height="13.5"/></clipPath><path d="M608.1,520.8 L610.3,527.3 L617.1,527.4 L611.6,531.4 L613.7,538.0 L608.1,534.0 L602.5,538.0 L604.6,531.4 L599.1,527.4 L605.9,527.3 Z" fill="#111" stroke="#111" stroke-width="1.4" stroke-linejoin="round" clip-path="url(#st10)"/>
<path d="M626.6,517.1 L628.8,523.6 L635.6,523.7 L630.1,527.7 L632.2,534.3 L626.6,530.3 L621.0,534.3 L623.1,527.7 L617.6,523.7 L624.4,523.6 Z" fill="#fff" stroke="#111" stroke-width="1.4" stroke-linejoin="round"/><clipPath id="st11"><rect x="614.1" y="514.1" width="25.0" height="13.5"/></clipPath><path d="M626.6,517.1 L628.8,523.6 L635.6,523.7 L630.1,527.7 L632.2,534.3 L626.6,530.3 L621.0,534.3 L623.1,527.7 L617.6,523.7 L624.4,523.6 Z" fill="#111" stroke="#111" stroke-width="1.4" stroke-linejoin="round" clip-path="url(#st11)"/>
<path d="M640.5,518.3 L642.7,524.8 L649.5,524.9 L644.0,528.9 L646.1,535.5 L640.5,531.5 L634.9,535.5 L637.0,528.9 L631.5,524.9 L638.3,524.8 Z" fill="#fff" stroke="#111" stroke-width="1.4" stroke-linejoin="round"/><clipPath id="st12"><rect x="628.0" y="515.3" width="25.0" height="13.5"/></clipPath><path d="M640.5,518.3 L642.7,524.8 L649.5,524.9 L644.0,528.9 L646.1,535.5 L640.5,531.5 L634.9,535.5 L637.0,528.9 L631.5,524.9 L638.3,524.8 Z" fill="#111" stroke="#111" stroke-width="1.4" stroke-linejoin="round" clip-path="url(#st12)"/>
<path d="M652.0,517.1 L654.2,523.6 L661.0,523.7 L655.5,527.7 L657.6,534.3 L652.0,530.3 L646.4,534.3 L648.5,527.7 L643.0,523.7 L649.8,523.6 Z" fill="#fff" stroke="#111" stroke-width="1.4" stroke-linejoin="round"/><clipPath id="st13"><rect x="639.5" y="514.1" width="25.0" height="13.5"/></clipPath><path d="M652.0,517.1 L654.2,523.6 L661.0,523.7 L655.5,527.7 L657.6,534.3 L652.0,530.3 L646.4,534.3 L648.5,527.7 L643.0,523.7 L649.8,523.6 Z" fill="#111" stroke="#111" stroke-width="1.4" stroke-linejoin="round" clip-path="url(#st13)"/>
<path d="M669.7,518.3 L671.9,524.8 L678.7,524.9 L673.2,528.9 L675.3,535.5 L669.7,531.5 L664.1,535.5 L666.2,528.9 L660.7,524.9 L667.5,524.8 Z" fill="#fff" stroke="#111" stroke-width="1.4" stroke-linejoin="round"/><clipPath id="st14"><rect x="657.2" y="515.3" width="25.0" height="13.5"/></clipPath><path d="M669.7,518.3 L671.9,524.8 L678.7,524.9 L673.2,528.9 L675.3,535.5 L669.7,531.5 L664.1,535.5 L666.2,528.9 L660.7,524.9 L667.5,524.8 Z" fill="#111" stroke="#111" stroke-width="1.4" stroke-linejoin="round" clip-path="url(#st14)"/>
<line x1="504.2" y1="156.0" x2="504.2" y2="188.6" stroke="#111" stroke-width="3.6" stroke-linecap="round"/><path d="M504.2,133.2 L511.4,157.0 L497.0,157.0 Z" fill="#111" stroke="#111" stroke-width="1.2" stroke-linejoin="round"/>
<line x1="585.6" y1="138.1" x2="585.6" y2="155.8" stroke="#111" stroke-width="3.6" stroke-linecap="round"/><path d="M585.6,115.3 L592.8,139.1 L578.4,139.1 Z" fill="#111" stroke="#111" stroke-width="1.2" stroke-linejoin="round"/>
<line x1="320.2" y1="239.4" x2="320.2" y2="271.9" stroke="#111" stroke-width="3.6" stroke-linecap="round"/><path d="M320.2,295.5 L327.2,270.9 L313.2,270.9 Z" fill="#111" stroke="#111" stroke-width="1.2" stroke-linejoin="round"/>
<line x1="152" y1="344.5" x2="171.5" y2="344.5" stroke="#8a8a8a" stroke-width="1.6"/>
<line x1="194.8" y1="344.5" x2="214.3" y2="344.5" stroke="#8a8a8a" stroke-width="1.6"/>
<rect x="176.2" y="337.6" width="13.7" height="13.7" fill="#fff" stroke="#4a4a4a" stroke-width="1.6"/>
<text x="220.8" y="353.8" font-size="28.6" font-family="'Liberation Serif','Times New Roman',serif">350<tspan font-size="22" dx="-1.5" dy="-12.5">o</tspan><tspan dx="-2.0" dy="12.5">C</tspan></text>
<line x1="152" y1="384.6" x2="171.5" y2="384.6" stroke="#8a8a8a" stroke-width="1.6"/>
<line x1="194.8" y1="384.6" x2="214.3" y2="384.6" stroke="#8a8a8a" stroke-width="1.6"/>
<circle cx="183.0" cy="384.6" r="7.1" fill="#fff" stroke="#4a4a4a" stroke-width="1.5"/>
<text x="220.8" y="393.9" font-size="28.6" font-family="'Liberation Serif','Times New Roman',serif">400<tspan font-size="22" dx="-1.5" dy="-12.5">o</tspan><tspan dx="-2.0" dy="12.5">C</tspan></text>
<line x1="152" y1="424.7" x2="171.5" y2="424.7" stroke="#8a8a8a" stroke-width="1.6"/>
<line x1="194.8" y1="424.7" x2="214.3" y2="424.7" stroke="#8a8a8a" stroke-width="1.6"/>
<path d="M183.0,414.3 L191.8,429.5 L174.2,429.5 Z" fill="#fff" stroke="#2a2a2a" stroke-width="1.6" stroke-linejoin="miter" stroke-miterlimit="4"/>
<text x="220.8" y="434.0" font-size="28.6" font-family="'Liberation Serif','Times New Roman',serif">520<tspan font-size="22" dx="-1.5" dy="-12.5">o</tspan><tspan dx="-2.0" dy="12.5">C</tspan></text>
<line x1="152" y1="464.8" x2="171.5" y2="464.8" stroke="#8a8a8a" stroke-width="1.6"/>
<line x1="194.8" y1="464.8" x2="214.3" y2="464.8" stroke="#8a8a8a" stroke-width="1.6"/>
<circle cx="183.0" cy="464.8" r="8.4" fill="#fff" stroke="#111" stroke-width="1.5"/><path d="M174.6,464.8 A8.4,8.4 0 0 1 191.4,464.8 Z" fill="#111"/>
<text x="220.8" y="474.1" font-size="28.6" font-family="'Liberation Serif','Times New Roman',serif">550<tspan font-size="22" dx="-1.5" dy="-12.5">o</tspan><tspan dx="-2.0" dy="12.5">C</tspan></text>
<line x1="152" y1="504.9" x2="171.5" y2="504.9" stroke="#8a8a8a" stroke-width="1.6"/>
<line x1="194.8" y1="504.9" x2="214.3" y2="504.9" stroke="#8a8a8a" stroke-width="1.6"/>
<rect x="175.8" y="497.6" width="14.5" height="14.5" fill="#fff" stroke="#111" stroke-width="1.5"/><rect x="183.0" y="497.6" width="7.2" height="14.5" fill="#111"/>
<text x="220.8" y="514.2" font-size="28.6" font-family="'Liberation Serif','Times New Roman',serif">580<tspan font-size="22" dx="-1.5" dy="-12.5">o</tspan><tspan dx="-2.0" dy="12.5">C</tspan></text>
<line x1="152" y1="545.0" x2="171.5" y2="545.0" stroke="#8a8a8a" stroke-width="1.6"/>
<line x1="194.8" y1="545.0" x2="214.3" y2="545.0" stroke="#8a8a8a" stroke-width="1.6"/>
<path d="M183.0,535.4 L185.2,542.0 L192.1,542.0 L186.5,546.1 L188.6,552.8 L183.0,548.7 L177.4,552.8 L179.5,546.1 L173.9,542.0 L180.8,542.0 Z" fill="#fff" stroke="#111" stroke-width="1.4" stroke-linejoin="round"/><clipPath id="st15"><rect x="170.4" y="532.4" width="25.2" height="13.6"/></clipPath><path d="M183.0,535.4 L185.2,542.0 L192.1,542.0 L186.5,546.1 L188.6,552.8 L183.0,548.7 L177.4,552.8 L179.5,546.1 L173.9,542.0 L180.8,542.0 Z" fill="#111" stroke="#111" stroke-width="1.4" stroke-linejoin="round" clip-path="url(#st15)"/>
<text x="214.7" y="554.3" font-size="28.6" font-family="'Liberation Serif','Times New Roman',serif">640<tspan font-size="22" dx="-1.5" dy="-12.5">o</tspan><tspan dx="-2.0" dy="12.5">C</tspan></text>
<path d="M1046.2,11.9 H1717.5 V562.4" fill="none" stroke="#a8a8a8" stroke-width="1.5"/>
<rect x="1046.2" y="11.9" width="175.79999999999995" height="183.7" fill="#fff" stroke="#8a8a8a" stroke-width="1.2"/>
<line x1="1034.3" y1="562.4" x2="1046.2" y2="562.4" stroke="#111" stroke-width="2.2"/>
<text x="1027.0" y="572.1" font-size="35" text-anchor="end" font-family="'Liberation Sans',Arial,sans-serif" >0.0</text>
<line x1="1040.5" y1="512.4" x2="1046.2" y2="512.4" stroke="#111" stroke-width="2.2"/>
<line x1="1034.3" y1="462.4" x2="1046.2" y2="462.4" stroke="#111" stroke-width="2.2"/>
<text x="1027.0" y="472.1" font-size="35" text-anchor="end" font-family="'Liberation Sans',Arial,sans-serif" >0.2</text>
<line x1="1040.5" y1="412.4" x2="1046.2" y2="412.4" stroke="#111" stroke-width="2.2"/>
<line x1="1034.3" y1="362.4" x2="1046.2" y2="362.4" stroke="#111" stroke-width="2.2"/>
<text x="1027.0" y="372.1" font-size="35" text-anchor="end" font-family="'Liberation Sans',Arial,sans-serif" >0.4</text>
<line x1="1040.5" y1="312.4" x2="1046.2" y2="312.4" stroke="#111" stroke-width="2.2"/>
<line x1="1034.3" y1="262.4" x2="1046.2" y2="262.4" stroke="#111" stroke-width="2.2"/>
<text x="1027.0" y="272.1" font-size="35" text-anchor="end" font-family="'Liberation Sans',Arial,sans-serif" >0.6</text>
<line x1="1040.5" y1="212.4" x2="1046.2" y2="212.4" stroke="#111" stroke-width="2.2"/>
<line x1="1034.3" y1="162.4" x2="1046.2" y2="162.4" stroke="#111" stroke-width="2.2"/>
<text x="1027.0" y="172.1" font-size="35" text-anchor="end" font-family="'Liberation Sans',Arial,sans-serif" >0.8</text>
<line x1="1040.5" y1="112.4" x2="1046.2" y2="112.4" stroke="#111" stroke-width="2.2"/>
<line x1="1034.3" y1="62.4" x2="1046.2" y2="62.4" stroke="#111" stroke-width="2.2"/>
<text x="1027.0" y="72.1" font-size="35" text-anchor="end" font-family="'Liberation Sans',Arial,sans-serif" >1.0</text>
<line x1="1040.5" y1="12.4" x2="1046.2" y2="12.4" stroke="#111" stroke-width="2.2"/>
<line x1="1046.1" y1="562.4" x2="1046.1" y2="568.7" stroke="#111" stroke-width="2.0"/>
<line x1="1058.8" y1="562.4" x2="1058.8" y2="568.7" stroke="#111" stroke-width="2.0"/>
<line x1="1069.8" y1="562.4" x2="1069.8" y2="568.7" stroke="#111" stroke-width="2.0"/>
<line x1="1079.6" y1="562.4" x2="1079.6" y2="568.7" stroke="#111" stroke-width="2.0"/>
<line x1="1088.3" y1="562.4" x2="1088.3" y2="574.4" stroke="#111" stroke-width="2.2"/>
<text x="1089.3" y="608.2" font-size="34" text-anchor="middle" font-family="'Liberation Serif','Times New Roman',serif" >10</text>
<line x1="1145.6" y1="562.4" x2="1145.6" y2="568.7" stroke="#111" stroke-width="2.0"/>
<line x1="1179.1" y1="562.4" x2="1179.1" y2="568.7" stroke="#111" stroke-width="2.0"/>
<line x1="1202.9" y1="562.4" x2="1202.9" y2="568.7" stroke="#111" stroke-width="2.0"/>
<line x1="1221.4" y1="562.4" x2="1221.4" y2="568.7" stroke="#111" stroke-width="2.0"/>
<line x1="1236.5" y1="562.4" x2="1236.5" y2="568.7" stroke="#111" stroke-width="2.0"/>
<line x1="1249.2" y1="562.4" x2="1249.2" y2="568.7" stroke="#111" stroke-width="2.0"/>
<line x1="1260.2" y1="562.4" x2="1260.2" y2="568.7" stroke="#111" stroke-width="2.0"/>
<line x1="1270.0" y1="562.4" x2="1270.0" y2="568.7" stroke="#111" stroke-width="2.0"/>
<line x1="1278.7" y1="562.4" x2="1278.7" y2="574.4" stroke="#111" stroke-width="2.2"/>
<text x="1279.7" y="608.2" font-size="34" text-anchor="middle" font-family="'Liberation Serif','Times New Roman',serif" >100</text>
<line x1="1336.0" y1="562.4" x2="1336.0" y2="568.7" stroke="#111" stroke-width="2.0"/>
<line x1="1369.5" y1="562.4" x2="1369.5" y2="568.7" stroke="#111" stroke-width="2.0"/>
<line x1="1393.3" y1="562.4" x2="1393.3" y2="568.7" stroke="#111" stroke-width="2.0"/>
<line x1="1411.8" y1="562.4" x2="1411.8" y2="568.7" stroke="#111" stroke-width="2.0"/>
<line x1="1426.9" y1="562.4" x2="1426.9" y2="568.7" stroke="#111" stroke-width="2.0"/>
<line x1="1439.6" y1="562.4" x2="1439.6" y2="568.7" stroke="#111" stroke-width="2.0"/>
<line x1="1450.6" y1="562.4" x2="1450.6" y2="568.7" stroke="#111" stroke-width="2.0"/>
<line x1="1460.4" y1="562.4" x2="1460.4" y2="568.7" stroke="#111" stroke-width="2.0"/>
<line x1="1469.1" y1="562.4" x2="1469.1" y2="574.4" stroke="#111" stroke-width="2.2"/>
<text x="1470.1" y="608.2" font-size="34" text-anchor="middle" font-family="'Liberation Serif','Times New Roman',serif" >1000</text>
<line x1="1526.4" y1="562.4" x2="1526.4" y2="568.7" stroke="#111" stroke-width="2.0"/>
<line x1="1559.9" y1="562.4" x2="1559.9" y2="568.7" stroke="#111" stroke-width="2.0"/>
<line x1="1583.7" y1="562.4" x2="1583.7" y2="568.7" stroke="#111" stroke-width="2.0"/>
<line x1="1602.2" y1="562.4" x2="1602.2" y2="568.7" stroke="#111" stroke-width="2.0"/>
<line x1="1617.3" y1="562.4" x2="1617.3" y2="568.7" stroke="#111" stroke-width="2.0"/>
<line x1="1630.0" y1="562.4" x2="1630.0" y2="568.7" stroke="#111" stroke-width="2.0"/>
<line x1="1641.0" y1="562.4" x2="1641.0" y2="568.7" stroke="#111" stroke-width="2.0"/>
<line x1="1650.8" y1="562.4" x2="1650.8" y2="568.7" stroke="#111" stroke-width="2.0"/>
<line x1="1659.5" y1="562.4" x2="1659.5" y2="574.4" stroke="#111" stroke-width="2.2"/>
<text x="1660.5" y="608.2" font-size="34" text-anchor="middle" font-family="'Liberation Serif','Times New Roman',serif" >10000</text>
<line x1="1716.8" y1="562.4" x2="1716.8" y2="568.7" stroke="#111" stroke-width="2.0"/>
<line x1="1046.2" y1="11.1" x2="1046.2" y2="563.6" stroke="#111" stroke-width="2.6"/>
<line x1="1045.0" y1="562.4" x2="1718.0" y2="562.4" stroke="#111" stroke-width="2.4"/>
<text x="1397.0" y="663.1" font-size="36.6" text-anchor="middle" font-family="'Liberation Serif','Times New Roman',serif" >Annealing time (sec)</text>
<text x="1321.8" y="730.3" font-size="36.5" text-anchor="middle" font-family="'Liberation Serif','Times New Roman',serif" >(b)</text>
<text x="0" y="0" font-size="34.6" text-anchor="middle" font-family="'Liberation Serif','Times New Roman',serif" transform="translate(947.3,288.5) rotate(-90)">Recrystallization fraction (Xv)</text>
<line x1="1052.2" y1="55.6" x2="1117.1" y2="55.6" stroke="#111" stroke-width="2.2"/>
<path d="M1084.8,47.3 L1093.5,55.6 L1084.8,63.9 L1076.1,55.6 Z" fill="#fff" stroke="#3a3a3a" stroke-width="1.3"/>
<text x="1124.5" y="65.3" font-size="32" font-family="'Liberation Serif','Times New Roman',serif">550<tspan font-size="31" dx="0.6" dy="-17.5">o</tspan><tspan dy="17.5">C</tspan></text>
<line x1="1052.2" y1="116.1" x2="1117.1" y2="116.1" stroke="#111" stroke-width="2.2"/>
<circle cx="1084.8" cy="116.1" r="7.0" fill="#fff" stroke="#3a3a3a" stroke-width="1.3"/>
<text x="1133.0" y="125.8" font-size="32" font-family="'Liberation Serif','Times New Roman',serif">580<tspan font-size="31" dx="0.6" dy="-17.5">o</tspan><tspan dy="17.5">C</tspan></text>
<line x1="1052.2" y1="176.4" x2="1117.1" y2="176.4" stroke="#111" stroke-width="2.2"/>
<rect x="1078.9" y="170.1" width="12.7" height="12.7" fill="#fff" stroke="#3a3a3a" stroke-width="1.3"/>
<text x="1133.0" y="186.1" font-size="32" font-family="'Liberation Serif','Times New Roman',serif">640<tspan font-size="31" dx="0.6" dy="-17.5">o</tspan><tspan dy="17.5">C</tspan></text>
<path d="M1088.3,499.9 C1088.3,499.9 1088.3,499.9 1097.9,496.6 C1107.4,493.3 1126.5,486.8 1166.4,470.4 C1206.3,454.1 1266.9,427.9 1304.2,399.0 C1341.5,370.1 1355.3,338.4 1371.9,307.6 C1388.5,276.7 1407.9,246.8 1419.6,215.1 C1431.4,183.5 1435.6,150.1 1439.5,125.8 C1443.4,101.5 1447.1,86.3 1450.5,77.2 C1454.0,68.2 1457.3,65.3 1462.9,63.9 C1468.6,62.5 1476.6,62.5 1480.6,62.5 C1484.6,62.5 1484.6,62.5 1484.6,62.5" fill="none" stroke="#111" stroke-width="2.6" stroke-linejoin="round"/>
<path d="M1369.7,460.6 C1369.7,460.6 1369.7,460.6 1379.3,449.4 C1388.9,438.2 1408.0,415.8 1423.2,391.3 C1438.4,366.8 1449.5,340.1 1459.0,320.0 C1468.5,299.8 1476.4,286.1 1481.5,270.1 C1486.5,254.0 1488.9,235.6 1494.5,208.7 C1500.0,181.8 1508.9,146.3 1526.8,122.1 C1544.8,97.9 1571.8,84.9 1585.4,78.4 C1598.9,71.9 1598.9,71.9 1598.9,71.9" fill="none" stroke="#111" stroke-width="2.6" stroke-linejoin="round"/>
<path d="M1427.3,422.0 C1427.3,422.0 1427.3,422.0 1432.9,418.5 C1438.4,415.1 1449.6,408.1 1464.7,395.7 C1479.8,383.3 1498.9,365.5 1512.5,347.5 C1526.0,329.6 1534.0,311.5 1539.6,290.3 C1545.3,269.0 1548.5,244.5 1552.9,223.8 C1557.3,203.1 1562.8,186.2 1567.8,170.1 C1572.8,154.0 1577.4,138.8 1582.5,127.0 C1587.6,115.3 1593.2,107.2 1596.1,103.1 C1598.9,99.0 1598.9,99.0 1598.9,99.0" fill="none" stroke="#111" stroke-width="2.6" stroke-linejoin="round"/>
<rect x="1082.0" y="493.6" width="12.5" height="12.5" fill="#fff" stroke="#3a3a3a" stroke-width="1.3"/>
<rect x="1139.3" y="473.9" width="12.5" height="12.5" fill="#fff" stroke="#3a3a3a" stroke-width="1.3"/>
<rect x="1321.3" y="395.6" width="12.5" height="12.5" fill="#fff" stroke="#3a3a3a" stroke-width="1.3"/>
<rect x="1363.0" y="300.4" width="12.5" height="12.5" fill="#fff" stroke="#3a3a3a" stroke-width="1.3"/>
<rect x="1421.0" y="210.6" width="12.5" height="12.5" fill="#fff" stroke="#3a3a3a" stroke-width="1.3"/>
<rect x="1433.5" y="110.5" width="12.5" height="12.5" fill="#fff" stroke="#3a3a3a" stroke-width="1.3"/>
<rect x="1444.5" y="64.8" width="12.5" height="12.5" fill="#fff" stroke="#3a3a3a" stroke-width="1.3"/>
<rect x="1454.3" y="56.2" width="12.5" height="12.5" fill="#fff" stroke="#3a3a3a" stroke-width="1.3"/>
<rect x="1478.3" y="56.2" width="12.5" height="12.5" fill="#fff" stroke="#3a3a3a" stroke-width="1.3"/>
<circle cx="1369.7" cy="460.6" r="6.7" fill="#fff" stroke="#3a3a3a" stroke-width="1.3"/>
<circle cx="1427.2" cy="393.4" r="6.7" fill="#fff" stroke="#3a3a3a" stroke-width="1.3"/>
<circle cx="1460.7" cy="313.5" r="6.7" fill="#fff" stroke="#3a3a3a" stroke-width="1.3"/>
<circle cx="1484.2" cy="272.4" r="6.7" fill="#fff" stroke="#3a3a3a" stroke-width="1.3"/>
<circle cx="1491.2" cy="217.2" r="6.7" fill="#fff" stroke="#3a3a3a" stroke-width="1.3"/>
<circle cx="1517.7" cy="110.9" r="6.7" fill="#fff" stroke="#3a3a3a" stroke-width="1.3"/>
<circle cx="1598.9" cy="71.9" r="6.7" fill="#fff" stroke="#3a3a3a" stroke-width="1.3"/>
<path d="M1427.3,413.7 L1436.0,422.0 L1427.3,430.3 L1418.6,422.0 Z" fill="#fff" stroke="#3a3a3a" stroke-width="1.3"/>
<path d="M1460.7,392.9 L1469.4,401.2 L1460.7,409.5 L1452.0,401.2 Z" fill="#fff" stroke="#3a3a3a" stroke-width="1.3"/>
<path d="M1518.0,339.3 L1526.7,347.6 L1518.0,355.9 L1509.3,347.6 Z" fill="#fff" stroke="#3a3a3a" stroke-width="1.3"/>
<path d="M1542.0,285.2 L1550.7,293.5 L1542.0,301.8 L1533.3,293.5 Z" fill="#fff" stroke="#3a3a3a" stroke-width="1.3"/>
<path d="M1551.8,211.7 L1560.5,220.0 L1551.8,228.3 L1543.1,220.0 Z" fill="#fff" stroke="#3a3a3a" stroke-width="1.3"/>
<path d="M1568.3,161.0 L1577.0,169.3 L1568.3,177.6 L1559.6,169.3 Z" fill="#fff" stroke="#3a3a3a" stroke-width="1.3"/>
<path d="M1581.9,115.2 L1590.6,123.5 L1581.9,131.8 L1573.2,123.5 Z" fill="#fff" stroke="#3a3a3a" stroke-width="1.3"/>
<path d="M1598.9,90.7 L1607.6,99.0 L1598.9,107.3 L1590.2,99.0 Z" fill="#fff" stroke="#3a3a3a" stroke-width="1.3"/>
</g>
</svg>
</body></html>
